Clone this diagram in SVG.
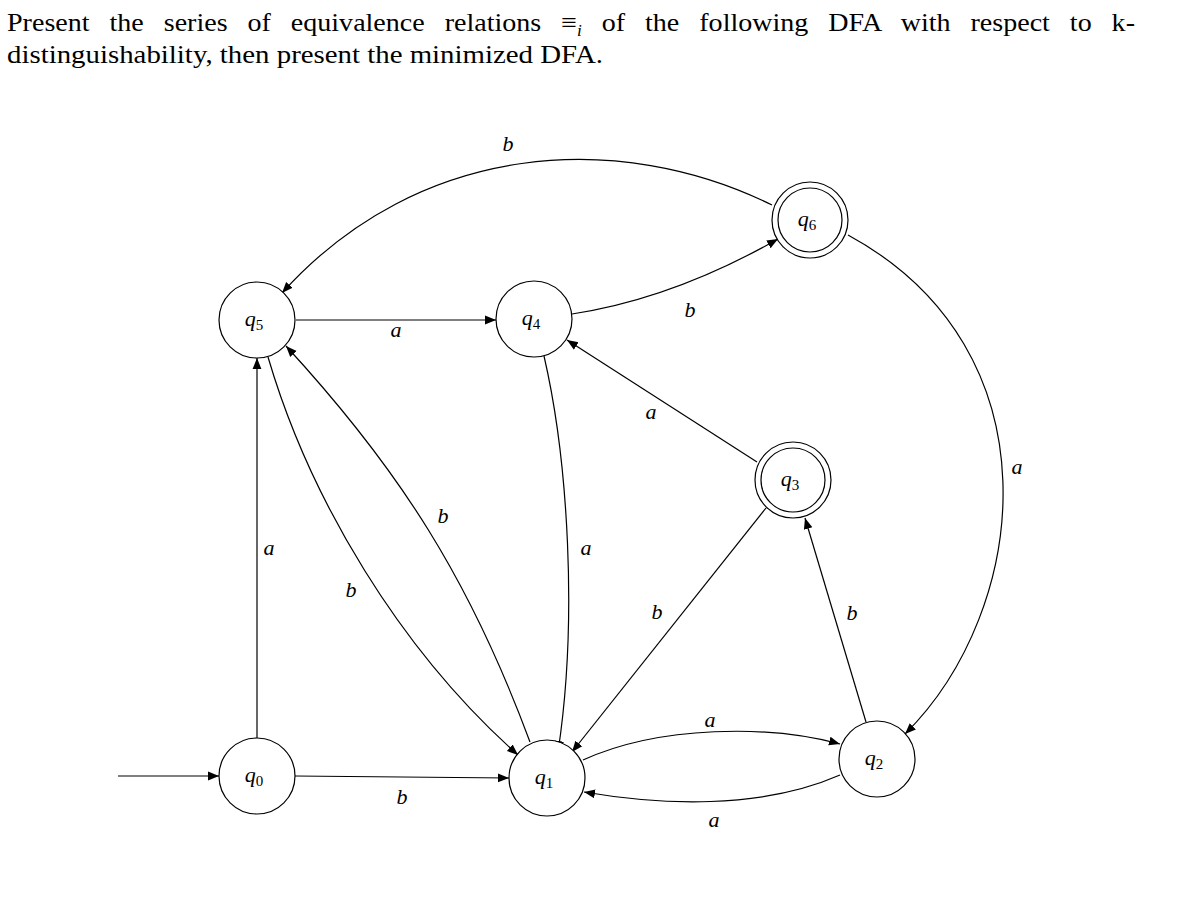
<svg xmlns="http://www.w3.org/2000/svg" width="1191" height="900" viewBox="0 0 1191 900">
<style>
.t{font-family:"Liberation Serif",serif;font-size:26px;fill:#000}
.l{font-family:"Liberation Serif",serif;font-size:22px;font-style:italic;fill:#000;text-anchor:middle}
.n{fill:#fff;stroke:#000;stroke-width:1.2}
.e{fill:none;stroke:#000;stroke-width:1.2;marker-end:url(#ar)}
</style>
<defs><marker id="ar" viewBox="0 0 10 10" refX="10" refY="5" markerWidth="11" markerHeight="11" markerUnits="userSpaceOnUse" orient="auto"><path d="M0,1 L10,5 L0,9 z" fill="#000"/></marker></defs>
<rect width="1191" height="900" fill="#fff"/>
<text class="t" x="7" y="31" word-spacing="12" textLength="1128" lengthAdjust="spacingAndGlyphs">Present the series of equivalence relations ≡<tspan font-style="italic" font-size="16" dy="5">i</tspan><tspan dy="-5"> of the following DFA with respect to k-</tspan></text>
<text class="t" x="7" y="63" textLength="596" lengthAdjust="spacingAndGlyphs">distinguishability, then present the minimized DFA.</text>
<g id="connectors">
<path class="e" d="M118,776 L219,776"/>
<path class="e" d="M772,205 C620,130 420,140 282,293"/>
<path class="e" d="M296,320 L496,320"/>
<path class="e" d="M572,314 C650,302 720,272 778,239"/>
<path class="e" d="M848,235 C1060,350 1030,610 905,734"/>
<path class="e" d="M757,462 L567,340"/>
<path class="e" d="M766,508 L572,752"/>
<path class="e" d="M866,722 L805,518"/>
<path class="e" d="M544,356 C568,460 578,620 558,752"/>
<path class="e" d="M268,357 C310,500 400,650 518,755"/>
<path class="e" d="M530,742 C470,580 400,470 286,346"/>
<path class="e" d="M257,738 L257,358"/>
<path class="e" d="M295,776 L509,778"/>
<path class="e" d="M583,760 C660,725 770,725 840,744"/>
<path class="e" d="M840,775 C760,810 660,805 584,792"/>
</g>
<g>
<text class="l" x="508" y="151">b</text>
<text class="l" x="396" y="337">a</text>
<text class="l" x="690" y="317">b</text>
<text class="l" x="1017" y="474">a</text>
<text class="l" x="651" y="419">a</text>
<text class="l" x="657" y="619">b</text>
<text class="l" x="852" y="620">b</text>
<text class="l" x="586" y="555">a</text>
<text class="l" x="351" y="597">b</text>
<text class="l" x="443" y="523">b</text>
<text class="l" x="269" y="555">a</text>
<text class="l" x="402" y="804">b</text>
<text class="l" x="710" y="727">a</text>
<text class="l" x="714" y="827">a</text>
</g>
<g id="q5"><circle class="n" cx="257" cy="320" r="38"/><text class="l" x="254" y="326">q<tspan font-size="15" font-style="normal" dy="4">5</tspan></text></g>
<g id="q4"><circle class="n" cx="534" cy="319" r="38"/><text class="l" x="531" y="325">q<tspan font-size="15" font-style="normal" dy="4">4</tspan></text></g>
<g id="q6"><circle class="n" cx="810" cy="220" r="38"/><circle class="n" cx="810" cy="220" r="32"/><text class="l" x="807" y="226">q<tspan font-size="15" font-style="normal" dy="4">6</tspan></text></g>
<g id="q3"><circle class="n" cx="793" cy="480" r="38"/><circle class="n" cx="793" cy="480" r="32"/><text class="l" x="790" y="486">q<tspan font-size="15" font-style="normal" dy="4">3</tspan></text></g>
<g id="q0"><circle class="n" cx="257" cy="776" r="38"/><text class="l" x="254" y="782">q<tspan font-size="15" font-style="normal" dy="4">0</tspan></text></g>
<g id="q1"><circle class="n" cx="547" cy="778" r="38"/><text class="l" x="544" y="784">q<tspan font-size="15" font-style="normal" dy="4">1</tspan></text></g>
<g id="q2"><circle class="n" cx="877" cy="759" r="38"/><text class="l" x="874" y="765">q<tspan font-size="15" font-style="normal" dy="4">2</tspan></text></g>
</svg>
